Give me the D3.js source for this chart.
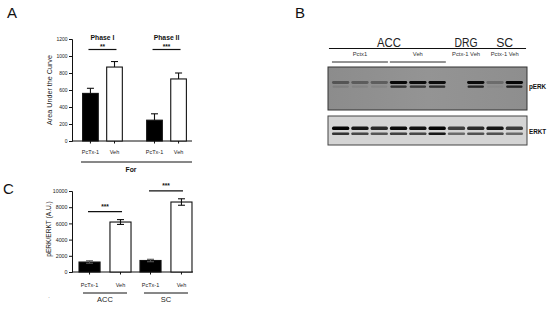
<!DOCTYPE html>
<html><head><meta charset="utf-8">
<script src="https://cdn.jsdelivr.net/npm/d3@7"></script>
<style>body{margin:0;background:#fff}svg{display:block;font-family:"Liberation Sans",Arial,sans-serif}</style>
</head><body><svg id="c" width="550" height="310"></svg>
<script>
// ---- Panel A data ----
const phases = ["Phase I", "Phase II"];
const treatA = ["PcTx-1", "Veh"];
const aucMean = [[560, 870], [245, 730]];
const aucErr = [[60, 65], [75, 70]];
const sigA = ["**", "***"];
const ticksA = [0, 200, 400, 600, 800, 1000, 1200];
// ---- Panel C data ----
const regions = ["ACC", "SC"];
const treatC = ["PcTx-1", "Veh"];
const ratioMean = [[1230, 6170], [1420, 8640]];
const ratioErr = [[150, 300], [150, 400]];
const sigC = ["***", "***"];
const ticksC = [0, 2000, 4000, 6000, 8000, 10000];
// ---- Panel B blot data ----
const lanes = ["ACC-P1","ACC-P2","ACC-P3","ACC-V1","ACC-V2","ACC-V3","DRG-P","DRG-V","SC-P","SC-V"];
const perkUpper = [0.4, 0.35, 0.35, 0.95, 0.92, 0.92, 0.0, 0.92, 0.25, 0.95];
const perkLower = [0.1, 0.08, 0.08, 0.72, 0.68, 0.75, 0.0, 0.82, 0.05, 0.82];
const erktUpper = [0.98, 0.9, 0.8, 0.95, 0.92, 0.98, 0.7, 0.8, 0.9, 0.72];
const erktLower = [0.82, 0.72, 0.6, 0.75, 0.72, 0.95, 0.5, 0.62, 0.68, 0.5];
const headerGroups = [["ACC", 0, 5], ["DRG", 6, 7], ["SC", 8, 9]];

const svg = d3.select("#c");
const txt = (x, y, s, size, opt = {}) => {
  const t = svg.append("text").attr("x", x).attr("y", y).text(s)
    .attr("font-size", size).attr("fill", opt.fill || "#111")
    .attr("text-anchor", opt.anchor || "middle")
    .attr("font-weight", opt.bold ? "bold" : "normal");
  if (opt.len) t.attr("textLength", opt.len).attr("lengthAdjust", "spacingAndGlyphs");
  return t;
};
const line = (x1, y1, x2, y2, w = 1) => svg.append("line").attr("x1", x1).attr("y1", y1)
  .attr("x2", x2).attr("y2", y2).attr("stroke", "#111").attr("stroke-width", w);

// ================= Panel A =================
txt(7, 18, "A", 15, {anchor: "start"});
const yA = d3.scaleLinear().domain([0, 1200]).range([141, 39]);
const xGA = d3.scaleBand().domain(phases).range([73, 196]).paddingInner(0.38).paddingOuter(0.15);
const xIA = d3.scaleBand().domain(treatA).range([0, xGA.bandwidth()]).paddingInner(0.35);
const axA = svg.append("g").attr("transform", "translate(72,0)")
  .call(d3.axisLeft(yA).tickValues(ticksA).tickFormat(d3.format("d")).tickSize(3).tickPadding(1.5));
axA.selectAll("text").attr("font-size", 5).attr("fill", "#222");
axA.selectAll("line,path").attr("stroke", "#111");
line(72, 141, 192, 141);
phases.forEach((p, gi) => {
  const g0 = xGA(p);
  treatA.forEach((t, ti) => {
    const x0 = g0 + xIA(t), w = xIA.bandwidth(), cx = x0 + w / 2;
    const v = aucMean[gi][ti], e = aucErr[gi][ti];
    line(cx, yA(v), cx, yA(v + e), 1.1);
    line(cx - 3.5, yA(v + e), cx + 3.5, yA(v + e), 1.1);
    svg.append("rect").attr("x", x0).attr("y", yA(v)).attr("width", w).attr("height", yA(0) - yA(v))
      .attr("fill", ti === 0 ? "#000" : "#fff").attr("stroke", "#111").attr("stroke-width", 1.1);
    line(cx, 141, cx, 143.5);
    txt(cx, 154, t, 5.5, {fill: "#222"});
  });
  const gc = g0 + xGA.bandwidth() / 2;
  txt(gc, 40, p, 6.8, {bold: true});
  txt(gc, 48.5, sigA[gi], 6.5, {bold: true});
  line(gc - 14, 49.5, gc + 14, 49.5, 1.2);
});
line(81, 162, 192, 162, 1);
txt(131, 172, "For", 6.8, {bold: true});
txt(0, 0, "Area Under the Curve", 7.2, {fill: "#222"}).attr("transform", "translate(52,90) rotate(-90)");

// ================= Panel C =================
txt(3, 194, "C", 15, {anchor: "start"});
const yC = d3.scaleLinear().domain([0, 10000]).range([272, 191]);
const xGC = d3.scaleBand().domain(regions).range([72, 199]).paddingInner(0.147).paddingOuter(0.115);
const xIC = d3.scaleBand().domain(treatC).range([0, xGC.bandwidth()]).paddingInner(0.32);
const axC = svg.append("g").attr("transform", "translate(72,0)")
  .call(d3.axisLeft(yC).tickValues(ticksC).tickFormat(d3.format("d")).tickSize(3).tickPadding(1.5));
axC.selectAll("text").attr("font-size", 5.3).attr("fill", "#222");
axC.selectAll("line,path").attr("stroke", "#111");
line(72, 272, 193, 272);
regions.forEach((r, gi) => {
  const g0 = xGC(r);
  treatC.forEach((t, ti) => {
    const x0 = g0 + xIC(t), w = xIC.bandwidth(), cx = x0 + w / 2;
    const v = ratioMean[gi][ti], e = ratioErr[gi][ti];
    svg.append("rect").attr("x", x0).attr("y", yC(v)).attr("width", w).attr("height", yC(0) - yC(v))
      .attr("fill", ti === 0 ? "#000" : "#fff").attr("stroke", "#111").attr("stroke-width", 1.1);
    const col = ti === 0 ? "#555" : "#111";
    line(cx, yC(v - e), cx, yC(v + e), 1.1).attr("stroke", col);
    line(cx - 3.5, yC(v + e), cx + 3.5, yC(v + e), 1.1).attr("stroke", col);
    line(cx - 3.5, yC(v - e), cx + 3.5, yC(v - e), 1.1).attr("stroke", col);
    line(cx, 272, cx, 274.5);
    txt(cx, 287, t, 5.5, {fill: "#222"});
  });
  const gc = g0 + xGC.bandwidth() / 2;
  const top = yC(ratioMean[gi][1] + ratioErr[gi][1]) - 8;
  line(gc - 17, top, gc + 17, top, 1.2);
  txt(gc, top - 3, sigC[gi], 6.5, {bold: true});
  line(gc - 22, 293, gc + 22, 293, 1);
  txt(gc, 302, r, 7.5, {fill: "#222"});
});
txt(49, 299, "·", 6, {fill: "#555"});
txt(0, 0, "pERK/ERKT (A.U.)", 6.6, {fill: "#222"}).attr("transform", "translate(51,229) rotate(-90)");

// ================= Panel B =================
txt(295, 18, "B", 15, {anchor: "start"});
const xL = d3.scaleBand().domain(lanes).range([331, 524]).paddingInner(0.1).paddingOuter(0.05);
const defs = svg.append("defs");
defs.append("filter").attr("id", "blur").attr("x", "-20%").attr("y", "-100%").attr("width", "140%").attr("height", "300%")
  .append("feGaussianBlur").attr("stdDeviation", 0.7);
const grad = defs.append("linearGradient").attr("id", "pbg").attr("x1", 0).attr("x2", 1);
grad.append("stop").attr("offset", 0).attr("stop-color", "#8c8c8c");
grad.append("stop").attr("offset", 0.5).attr("stop-color", "#949494");
grad.append("stop").attr("offset", 1).attr("stop-color", "#8e8e8e");
headerGroups.forEach(([name, a, b]) => {
  const x1 = xL(lanes[a]) - 3, x2 = xL(lanes[b]) + xL.bandwidth() + 3;
  const cx = (x1 + x2) / 2;
  const lens = {ACC: 24, DRG: 23, SC: 17};
  txt(cx, 46.5, name, 12.5, {fill: "#222", len: lens[name]});
  line(x1, 48.5, x2, 48.5, 1.2);
});
const subX = (a, b) => (xL(lanes[a]) + xL(lanes[b]) + xL.bandwidth()) / 2;
txt(subX(0, 2), 55.5, "Pctx1", 5.8, {fill: "#333"});
line(xL(lanes[0]), 62, xL(lanes[2]) + xL.bandwidth(), 62, 0.9);
txt(subX(3, 5), 55.5, "Veh", 5.8, {fill: "#333"});
line(xL(lanes[3]), 62, xL(lanes[5]) + xL.bandwidth(), 62, 0.9);
txt(subX(6, 7), 55.5, "Pctx-1 Veh", 5.8, {fill: "#333"});
txt(subX(8, 9), 55.5, "Pctx-1  Veh", 5.8, {fill: "#333"});
// blot frames
svg.append("rect").attr("x", 328).attr("y", 67).attr("width", 199).attr("height", 43)
  .attr("fill", "url(#pbg)").attr("stroke", "#333").attr("stroke-width", 1);
svg.append("rect").attr("x", 328).attr("y", 116).attr("width", 199).attr("height", 29)
  .attr("fill", "#d4d4d4").attr("stroke", "#444").attr("stroke-width", 1);
const bandG = svg.append("g").attr("filter", "url(#blur)");
lanes.forEach((l, i) => {
  const x0 = xL(l), w = xL.bandwidth();
  bandG.append("rect").attr("x", x0).attr("y", 81).attr("width", w).attr("height", 3).attr("rx", 1.4)
    .attr("fill", "#050505").attr("opacity", perkUpper[i]);
  bandG.append("rect").attr("x", x0 + 0.5).attr("y", 85.6).attr("width", w - 1).attr("height", 2.2).attr("rx", 1.1)
    .attr("fill", "#0a0a0a").attr("opacity", perkLower[i]);
  bandG.append("rect").attr("x", x0).attr("y", 126.6).attr("width", w).attr("height", 3.4).attr("rx", 1.6)
    .attr("fill", "#050505").attr("opacity", erktUpper[i]);
  bandG.append("rect").attr("x", x0).attr("y", 132.4).attr("width", w).attr("height", 2.6).attr("rx", 1.3)
    .attr("fill", "#0a0a0a").attr("opacity", erktLower[i]);
});
txt(529, 88.5, "pERK", 6.3, {bold: true, anchor: "start"});
txt(529, 134, "ERKT", 6.3, {bold: true, anchor: "start"});
</script></body></html>
